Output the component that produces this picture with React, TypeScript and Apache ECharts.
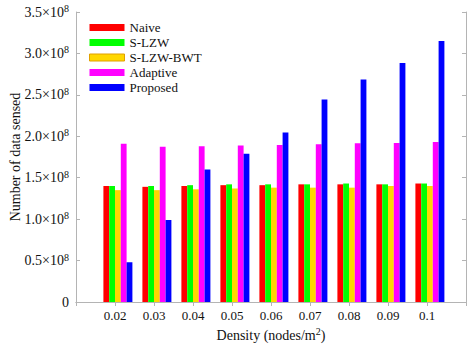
import React, { useEffect, useRef } from "react";
import * as echarts from "echarts";

// Density categories (nodes/m^2)
const categories = ["0.02", "0.03", "0.04", "0.05", "0.06", "0.07", "0.08", "0.09", "0.1"];
// Number of data sensed, in units of 10^8
const naive = [1.40, 1.39, 1.40, 1.41, 1.41, 1.42, 1.42, 1.42, 1.43];
const sLzw = [1.40, 1.40, 1.41, 1.42, 1.42, 1.42, 1.43, 1.42, 1.43];
const sLzwBwt = [1.35, 1.35, 1.36, 1.37, 1.38, 1.38, 1.38, 1.40, 1.40];
const adaptive = [1.91, 1.875, 1.88, 1.89, 1.895, 1.905, 1.915, 1.92, 1.93];
const proposed = [0.48, 0.99, 1.60, 1.79, 2.045, 2.445, 2.685, 2.885, 3.15];
const seriesNames = ["Naive", "S-LZW", "S-LZW-BWT", "Adaptive", "Proposed"];
const seriesColors = ["#ff0000", "#00ff00", "#ffd700", "#ff00ff", "#0000ff"];
const yTicks = [0, 0.5, 1.0, 1.5, 2.0, 2.5, 3.0, 3.5];

const FONT = "Liberation Serif";
const AXIS_COLOR = "#b4b4b4";

export default function App() {
  const ref = useRef<HTMLDivElement>(null);
  useEffect(() => {
    if (!ref.current) return;
    const chart = echarts.init(ref.current, null, { renderer: "svg" });
    const axisData = ["", ...categories, ""];
    const pad = (arr: (number | null)[]) => [null, ...arr, null];
    const values = [naive, sLzw, sLzwBwt, adaptive, proposed];
    const barW = 5.8;
    const series: any[] = [
      {
        name: "_offset",
        type: "bar",
        data: pad(categories.map(() => null)),
        barWidth: barW,
        barGap: "0%",
        silent: true,
        itemStyle: { color: "transparent" },
      },
      ...values.map((v, i) => ({
        name: seriesNames[i],
        type: "bar",
        data: pad(v),
        barWidth: barW,
        barGap: "0%",
        itemStyle: { color: seriesColors[i] },
      })),
    ];
    const rich = {
      n: { fontFamily: FONT, fontSize: 14, color: "#111" },
      s: { fontFamily: FONT, fontSize: 10, color: "#111", padding: [0, 0, 7, 0] },
    };
    chart.setOption({
      animation: false,
      backgroundColor: "#ffffff",
      grid: { left: 76, right: 8, top: 12, bottom: 51, containLabel: false, outerBoundsMode: "none" },
      legend: {
        orient: "vertical",
        left: 89,
        top: 21,
        padding: 0,
        itemWidth: 35,
        itemHeight: 7,
        itemGap: 2,
        icon: "rect",
        data: seriesNames.map((n, i) =>
          i === 2 ? { name: n, itemStyle: { borderColor: "#e0a000", borderWidth: 1 } } : { name: n }
        ),
        formatter: "{t|{name}}",
        textStyle: {
          fontFamily: FONT,
          fontSize: 13,
          color: "#111",
          fontWeight: "normal",
          rich: { t: { fontFamily: FONT, fontSize: 13, color: "#111", fontWeight: "normal" } },
        },
      },
      xAxis: [
        {
          type: "category",
          data: axisData,
          boundaryGap: false,
          position: "bottom",
          axisLine: { lineStyle: { color: AXIS_COLOR } },
          axisTick: { inside: true, length: 4, lineStyle: { color: AXIS_COLOR } },
          axisLabel: { fontFamily: FONT, fontSize: 13, color: "#111", margin: 7, interval: 0 },
          splitLine: { show: false },
          name: "{n|Density (nodes/m}{s|2}{n|)}",
          nameLocation: "middle",
          nameGap: 20,
          nameTextStyle: { rich },
        },
        {
          type: "category",
          data: axisData,
          boundaryGap: false,
          position: "top",
          axisLine: { lineStyle: { color: AXIS_COLOR } },
          axisTick: { inside: true, length: 4, lineStyle: { color: AXIS_COLOR } },
          axisLabel: { show: false },
          splitLine: { show: false },
        },
      ],
      yAxis: [
        {
          type: "value",
          min: 0,
          max: 3.5,
          interval: 0.5,
          position: "left",
          axisLine: { show: true, lineStyle: { color: AXIS_COLOR } },
          axisTick: { show: true, inside: true, length: 4, lineStyle: { color: AXIS_COLOR } },
          axisLabel: {
            margin: 7,
            formatter: (v: number) => {
              const t = yTicks.find((x) => Math.abs(x - v) < 1e-9);
              if (t === undefined) return "";
              if (t === 0) return "{n|0}";
              return `{n|${t.toFixed(1)}×10}{s|8}`;
            },
            rich,
          },
          splitLine: { show: false },
          name: "Number of data sensed",
          nameLocation: "middle",
          nameGap: 54,
          nameMoveOverlap: false,
          nameTextStyle: { fontFamily: FONT, fontSize: 14, color: "#111" },
        },
        {
          type: "value",
          min: 0,
          max: 3.5,
          interval: 0.5,
          position: "right",
          axisLine: { show: true, lineStyle: { color: AXIS_COLOR } },
          axisTick: { show: true, inside: true, length: 4, lineStyle: { color: AXIS_COLOR } },
          axisLabel: { show: false },
          splitLine: { show: false },
        },
      ],
      series,
    });
    return () => chart.dispose();
  }, []);
  return (
    <div
      ref={ref}
      style={{ position: "fixed", left: 0, top: 0, width: 474, height: 353, background: "#fff" }}
    />
  );
}
